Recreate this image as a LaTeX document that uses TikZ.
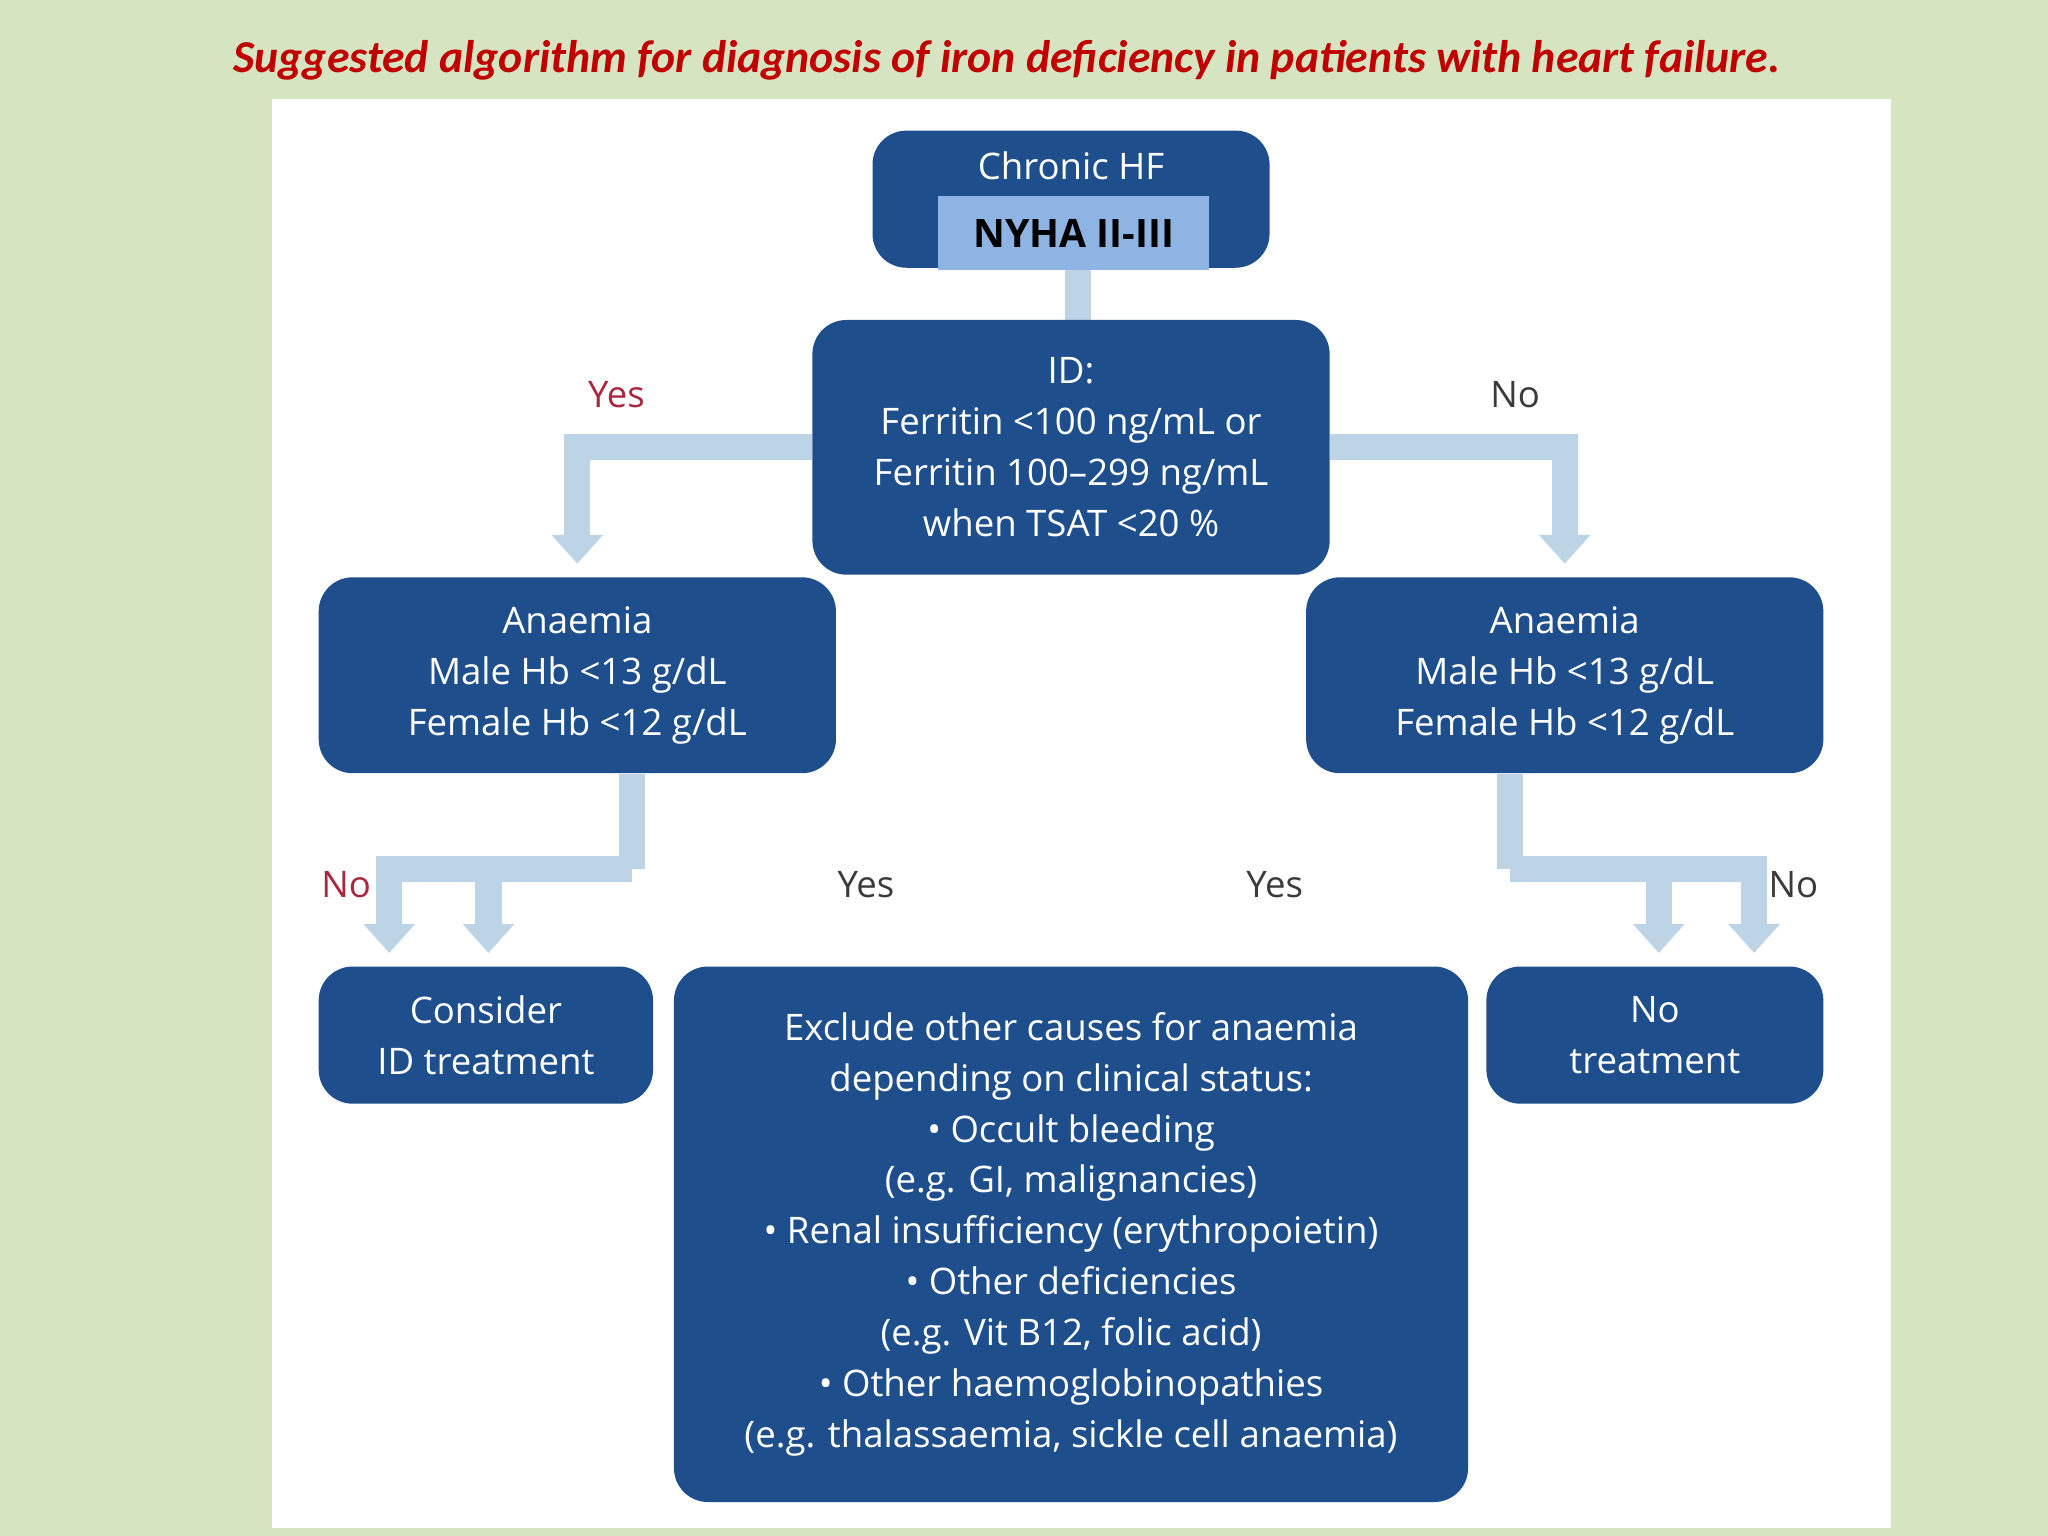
\documentclass[tikz,border=0pt]{standalone}
\usepackage{fontspec}
\setmainfont{Open Sans}
\newfontfamily\titlefont{Carlito}
\usetikzlibrary{arrows.meta}
\definecolor{bg}{HTML}{D7E4C1}
\definecolor{dblue}{HTML}{1E4F8C}
\definecolor{lblue}{HTML}{BDD3E6}
\definecolor{nyha}{HTML}{8DB4E2}
\definecolor{tred}{HTML}{C00000}
\definecolor{lred}{HTML}{A8283F}
\definecolor{lgray}{HTML}{3A3A3A}
\tikzset{
  box/.style={fill=dblue, rounded corners=13pt, text=white, align=center, inner sep=0pt,
    font=\fontsize{14}{19.5}\selectfont},
  conn/.style={draw=lblue, line width=10pt, line join=miter,
    -{Triangle[width=19pt,length=11pt]}, shorten >=5pt},
  connline/.style={draw=lblue, line width=10pt},
  lab/.style={font=\fontsize{14}{16}\selectfont}
}
\begin{document}
\begin{tikzpicture}[x=0.5pt,y=-0.5pt]
\fill[bg] (0,0) rectangle (1568,1176);
\fill[white] (208,76) rectangle (1448,1170);
\node[font=\titlefont\bfseries\itshape\fontsize{17.5}{20}\selectfont, text=tred] (title) at (771,46)
  {Suggested algorithm for diagnosis of iron deficiency in patients with heart failure.};

% connectors first
\coordinate (chb) at (825,205);
\coordinate (idt) at (825,246);
\draw[connline] (chb) -- (idt);

\node[box, minimum width=152pt, minimum height=52.5pt, text depth=26pt] (ch) at (820,152.5) {Chronic HF};
\node[fill=nyha, minimum width=104pt, minimum height=28.5pt, inner sep=0pt,
  font=\bfseries\fontsize{15}{18}\selectfont] (nyha) at (822,178.5) {NYHA II-III};

\node[box, minimum width=198pt, minimum height=97.5pt] (id) at (820,342.5)
  {ID:\\Ferritin <100 ng/mL or\\Ferritin 100--299 ng/mL\\when TSAT <20 \%};
\node[box, minimum width=198pt, minimum height=75pt] (la) at (442,517)
  {Anaemia\\Male Hb <13 g/dL\\Female Hb <12 g/dL};
\node[box, minimum width=198pt, minimum height=75pt] (ra) at (1198,517)
  {Anaemia\\Male Hb <13 g/dL\\Female Hb <12 g/dL};
\node[box, minimum width=128pt, minimum height=52.5pt] (ci) at (372,792.5)
  {Consider\\ID treatment};
\node[box, minimum width=304pt, minimum height=205pt] (ex) at (820,945)
  {Exclude other causes for anaemia\\depending on clinical status:\\
   • Occult bleeding\\(e.g. GI, malignancies)\\
   • Renal insufficiency (erythropoietin)\\• Other deficiencies\\
   (e.g. Vit B12, folic acid)\\• Other haemoglobinopathies\\
   (e.g. thalassaemia, sickle cell anaemia)};
\node[box, minimum width=129pt, minimum height=52.5pt] (nt) at (1267,792.5)
  {No\\treatment};

\draw[conn] (id.west) -| (la.north);
\draw[conn] (id.east) -| (ra.north);

\draw[connline] ([xshift=21]la.south) -- ++(0,73) coordinate (lj);
\draw[conn] (lj) -| ([xshift=-37]ci.north);
\draw[conn] (lj) -| ([xshift=-223]ex.north);
\draw[connline] ([xshift=-21]ra.south) -- ++(0,73) coordinate (rj);
\draw[conn] (rj) -| ([xshift=225]ex.north);
\draw[conn] (rj) -| ([xshift=38]nt.north);

\node[lab, text=lred] (y1) at (472,302) {Yes};
\node[lab, text=lgray] (n1) at (1160,302) {No};
\node[lab, text=lred] (n2) at (265,677) {No};
\node[lab, text=lgray] (y2) at (663,677) {Yes};
\node[lab, text=lgray] (y3) at (976,677) {Yes};
\node[lab, text=lgray] (n3) at (1373,677) {No};
\end{tikzpicture}
\end{document}
